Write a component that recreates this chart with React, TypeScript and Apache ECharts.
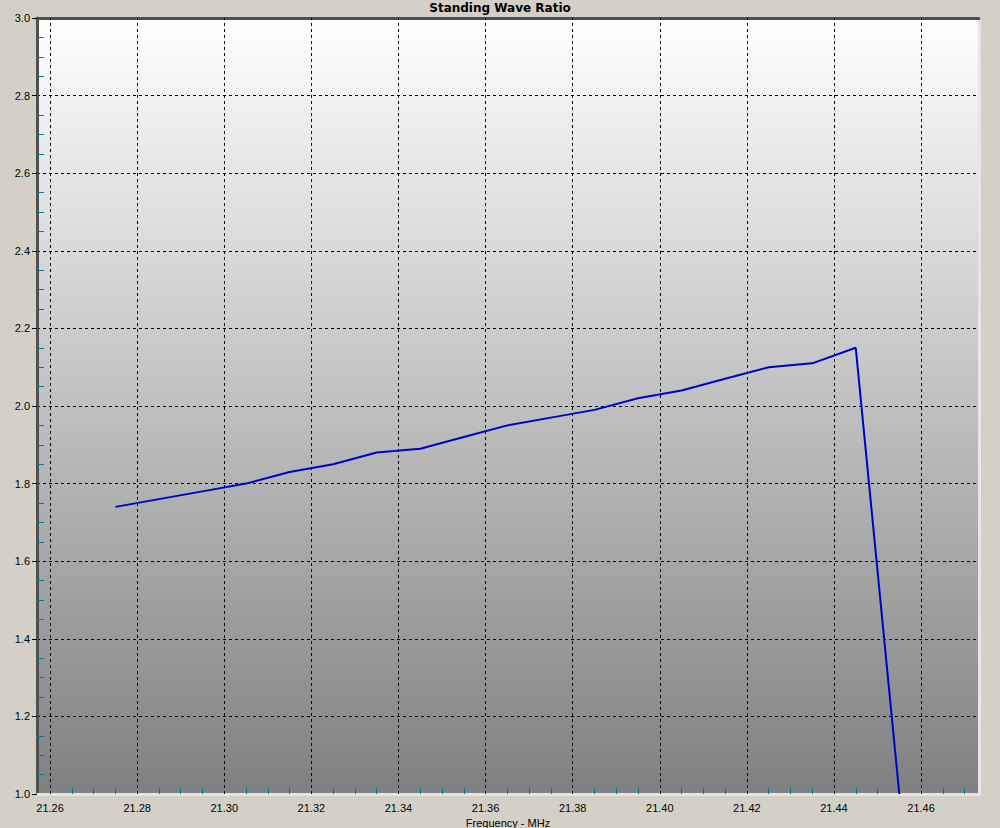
import React, { useEffect, useRef } from "react";
import * as echarts from "echarts";

const freqs = [21.275, 21.285, 21.295, 21.305, 21.315, 21.325, 21.335, 21.345, 21.355, 21.365, 21.375, 21.385, 21.395, 21.405, 21.415, 21.425, 21.435, 21.445, 21.455];
const swr = [1.74, 1.76, 1.78, 1.80, 1.83, 1.85, 1.88, 1.89, 1.92, 1.95, 1.97, 1.99, 2.02, 2.04, 2.07, 2.10, 2.11, 2.15, 1.0];
const xMajorTicks = [21.26, 21.28, 21.30, 21.32, 21.34, 21.36, 21.38, 21.40, 21.42, 21.44, 21.46];
const xMinorTicks = [
  21.265, 21.27, 21.275, 21.285, 21.29, 21.295, 21.305, 21.31, 21.315, 21.325, 21.33, 21.335,
  21.345, 21.35, 21.355, 21.365, 21.37, 21.375, 21.385, 21.39, 21.395, 21.405, 21.41, 21.415,
  21.425, 21.43, 21.435, 21.445, 21.45, 21.455, 21.465, 21.47,
];
const xMin = 21.257;
const xMax = 21.4733;
const yMin = 1.0;
const yMax = 3.0;
const yStep = 0.2;

const FONT = "'Liberation Sans', Arial, sans-serif";
const TITLE_FONT = "'DejaVu Sans', Verdana, sans-serif";
const DARK = "#505050";
const LIGHT = "#e6e6e6";
const TEAL = "#008080";

export default function App() {
  const ref = useRef<HTMLDivElement>(null);
  useEffect(() => {
    document.body.style.margin = "0";
    document.body.style.background = "#d4d0c8";
    const chart = echarts.init(ref.current!, null, { renderer: "svg" });
    const grid = { left: 37, right: 21, top: 18, bottom: 34 };
    chart.setOption({
      animation: false,
      backgroundColor: "#d4d0c8",
      title: {
        text: "Standing Wave Ratio",
        left: "center",
        top: 2,
        padding: 0,
        textStyle: { fontFamily: TITLE_FONT, fontSize: 12, fontWeight: "bold", color: "#000" },
      },
      grid: {
        ...grid,
        show: true,
        borderWidth: 0,
        containLabel: false,
        outerBoundsMode: "none",
        backgroundColor: new echarts.graphic.LinearGradient(0, 0, 0, 1, [
          { offset: 0, color: "#ffffff" },
          { offset: 1, color: "#808080" },
        ]),
      },
      xAxis: [
        {
          type: "value",
          min: xMin,
          max: xMax,
          position: "bottom",
          name: "Frequency - MHz",
          nameLocation: "middle",
          nameGap: 19,
          nameTextStyle: { fontFamily: FONT, fontSize: 11, color: "#000" },
          axisLine: { show: true, onZero: false, lineStyle: { color: LIGHT, width: 3 } },
          axisTick: {
            show: true,
            inside: true,
            length: 6,
            customValues: xMinorTicks,
            lineStyle: { color: TEAL, width: 1 },
          },
          axisLabel: {
            customValues: xMajorTicks,
            margin: 8,
            fontFamily: FONT,
            fontSize: 11,
            color: "#000",
            formatter: (v: number) => v.toFixed(2),
          },
          splitLine: { show: false },
        },
        {
          type: "value",
          min: xMin,
          max: xMax,
          position: "top",
          axisLine: { show: true, onZero: false, lineStyle: { color: DARK, width: 3 } },
          axisTick: { show: false },
          axisLabel: { show: false },
          splitLine: { show: false },
        },
      ],
      yAxis: [
        {
          type: "value",
          min: yMin,
          max: yMax,
          interval: yStep,
          position: "left",
          axisLine: { show: true, onZero: false, lineStyle: { color: DARK, width: 3 } },
          axisTick: { show: true, length: 5, lineStyle: { color: "#000", width: 1 } },
          axisLabel: {
            margin: 7,
            fontFamily: FONT,
            fontSize: 11,
            color: "#000",
            formatter: (v: number) => v.toFixed(1),
          },
          splitLine: { show: true, lineStyle: { color: "#000", width: 1, type: [3, 3] } },
        },
        {
          type: "value",
          min: yMin,
          max: yMax,
          interval: yStep,
          position: "left",
          axisLine: { show: false },
          axisTick: { show: false, inside: true },
          minorTick: { show: true, splitNumber: 4, length: 7, lineStyle: { color: TEAL, width: 1 } },
          axisLabel: { show: false },
          splitLine: { show: false },
        },
        {
          type: "value",
          min: yMin,
          max: yMax,
          position: "right",
          axisLine: { show: true, onZero: false, lineStyle: { color: LIGHT, width: 3 } },
          axisTick: { show: false },
          axisLabel: { show: false },
          splitLine: { show: false },
        },
      ],
      series: [
        {
          type: "line",
          xAxisIndex: 0,
          yAxisIndex: 0,
          data: freqs.map((f, i) => [f, swr[i]]),
          showSymbol: false,
          symbol: "none",
          lineStyle: { color: "#0000c8", width: 2 },
          clip: true,
          z: 5,
          markLine: {
            silent: true,
            symbol: ["none", "none"],
            label: { show: false },
            lineStyle: { color: "#000", width: 1, type: [3, 3] },
            data: xMajorTicks.map((v) => ({ xAxis: v })),
            z: 1,
          },
        },
      ],
    });
    return () => chart.dispose();
  }, []);
  return (
    <div
      ref={ref}
      style={{ position: "fixed", left: 0, top: 0, width: 1000, height: 828, background: "#d4d0c8" }}
    />
  );
}
